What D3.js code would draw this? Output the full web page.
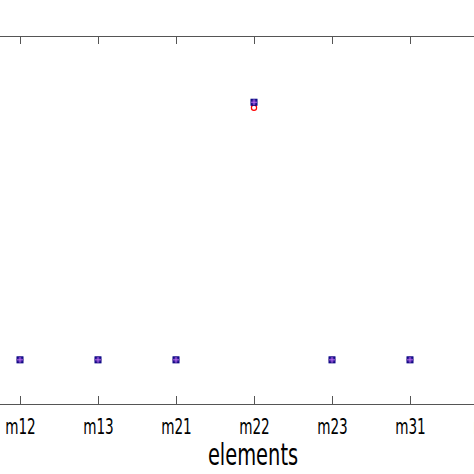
<!DOCTYPE html>
<html><head><meta charset="utf-8">
<script src="https://cdn.jsdelivr.net/npm/d3@7"></script>
<style>body{margin:0;background:#fff}svg{display:block}</style>
</head><body>
<svg id="chart" width="474" height="474"></svg>
<script>
let categories = ["m11", "m12", "m13", "m21", "m22", "m23", "m31", "m32", "m33"];
let squareVals = [0.12, 0.12, 0.12, 0.12, 0.82, 0.12, 0.12, 0.12, 0.12];
let circleVals = [0.12, 0.12, 0.12, 0.12, 0.805, 0.12, 0.12, 0.12, 0.12];
let plusVals   = [0.12, 0.12, 0.12, 0.12, 0.82, 0.12, 0.12, 0.12, 0.12];

let svg = d3.select("#chart");
let x = d3.scalePoint().domain(categories).range([-58, 566]);
let y = d3.scaleLinear().domain([0, 1]).range([404, 36]);
let font = "'DejaVu Sans Condensed', 'DejaVu Sans', sans-serif";

// bottom axis, ticks pointing inward
let bottom = svg.append("g").attr("transform", "translate(0,404)")
    .call(d3.axisBottom(x).tickSizeInner(-8).tickSizeOuter(0).tickPadding(0).tickFormat(""));
bottom.selectAll(".tick").append("text")
    .attr("transform", "translate(0,30) scale(0.72,1)")
    .attr("fill", "#000")
    .style("text-anchor", "middle").style("font-family", font).style("font-size", "21px")
    .text(d => d);

svg.append("g").attr("transform", "translate(0,36)")
    .call(d3.axisTop(x).tickSizeInner(-8).tickSizeOuter(0).tickFormat(""));
svg.selectAll(".domain, .tick line").attr("stroke", "#555");

svg.append("text")
    .attr("transform", "translate(253,465) scale(0.72,1)")
    .style("text-anchor", "middle").style("font-family", font)
    .style("font-size", "30px")
    .text("elements");

let pts = categories.map((c, i) => ({c: c, s: squareVals[i], o: circleVals[i], p: plusVals[i]}));

svg.append("g").selectAll("circle").data(pts).enter().append("circle")
    .attr("cx", d => x(d.c)).attr("cy", d => y(d.o)).attr("r", 2.6)
    .attr("fill", "none").attr("stroke", "red").attr("stroke-width", 1.2);

svg.append("g").selectAll("rect").data(pts).enter().append("rect")
    .attr("x", d => x(d.c) - 3).attr("y", d => y(d.s) - 3)
    .attr("width", 6).attr("height", 6)
    .attr("fill", "#4020a0").attr("stroke", "#000080").attr("stroke-width", 1);

svg.append("g").selectAll("path").data(pts).enter().append("path")
    .attr("d", d => `M${x(d.c) - 3},${y(d.p)}h6M${x(d.c)},${y(d.p) - 3}v6`)
    .attr("stroke", "#d080ff").attr("stroke-width", 0.8);
</script>
</body></html>
